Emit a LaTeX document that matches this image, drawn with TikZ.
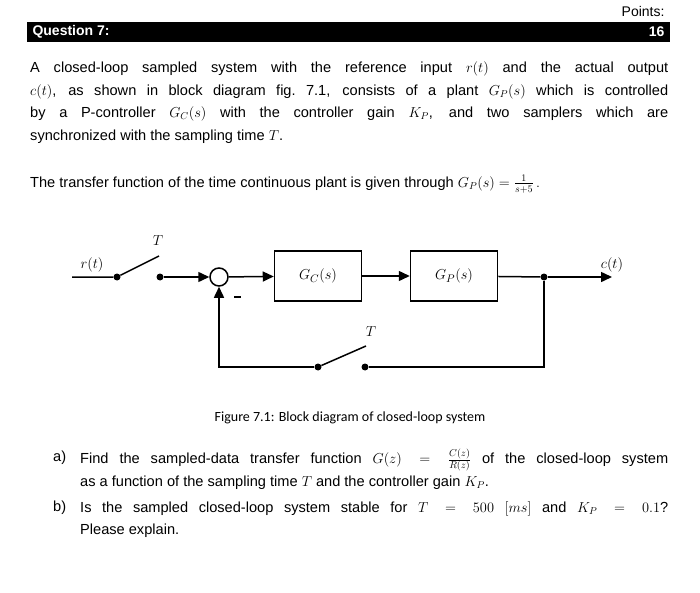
\documentclass[tikz,border=0pt]{standalone}
\usepackage{amsmath}
\usepackage{fontspec}
\setmainfont{Liberation Sans}
\newfontfamily\capfont{Carlito}
\usetikzlibrary{arrows.meta}
\tikzset{
  blk/.style={draw, line width=1.5pt, minimum width=87pt, minimum height=50pt},
  dot/.style={circle, fill, inner sep=0pt, minimum size=7pt},
  sig/.style={line width=1.5pt, -{Triangle[length=11pt,width=10pt]}},
  lbl/.style={font=\fontsize{15}{17}\selectfont},
  txt/.style={anchor=north west, inner sep=0pt, align=justify, font=\fontsize{14.6}{22.4}\selectfont}
}
\begin{document}
\begin{tikzpicture}[x=1pt,y=-1pt]
  \useasboundingbox (0,0) rectangle (700,593);
  % header
  \node[anchor=east, font=\fontsize{14}{16}\selectfont] (pts) at (668,12) {Points:};
  \fill (27,22) rectangle (670,42);
  \node[anchor=west, white, font=\bfseries\fontsize{14}{16}\selectfont] (q) at (29,32) {Question 7:};
  \node[anchor=east, white, font=\bfseries\fontsize{14}{16}\selectfont] (pn) at (668,32) {16};
  % text
  \node[txt, text width=638pt] (intro) at (30,62) {A closed-loop sampled system with the reference input $r(t)$ and the actual output\linebreak $c(t)$, as shown in block diagram fig.~7.1, consists of a plant $G_P(s)$ which is controlled\linebreak by a P-controller $G_C(s)$ with the controller gain $K_P$, and two samplers which are\linebreak synchronized with the sampling time $T$.};
  \node[txt, anchor=west] (tf) at (30,184) {The transfer function of the time continuous plant is given through $G_P(s)=\frac{1}{s+5}\,.$};
  % diagram
  \node[lbl] (r) at (92,265) {$r(t)$};
  \coordinate (rin) at (72,277);
  \node[dot] (s1a) at (117,277) {};
  \node[dot] (s1b) at (160,277) {};
  \coordinate (s1t) at (159,256);
  \node[lbl] (T1) at (158,241) {$T$};
  \node[draw, line width=1.5pt, circle, minimum size=18pt, inner sep=0pt] (sum) at (219,277) {};
  \node[blk, lbl] (gc) at (318,276) {$G_C(s)$};
  \node[blk, lbl] (gp) at (454,276) {$G_P(s)$};
  \node[dot] (br) at (544,277) {};
  \coordinate (out) at (612,277);
  \node[lbl] (c) at (612,265) {$c(t)$};
  \node[fill, minimum width=7pt, minimum height=2.5pt, inner sep=0pt] (minus) at (237,297) {};
  \node[dot] (s2a) at (318,367) {};
  \node[dot] (s2b) at (365,367) {};
  \coordinate (s2t) at (366,346);
  \node[lbl] (T2) at (371,332) {$T$};
  \draw[line width=1.5pt] (rin) -- (s1a) -- (s1t);
  \draw[sig] (s1b) -- (sum);
  \draw[sig] (sum) -- (gc);
  \draw[sig] (gc) -- (gp);
  \draw[line width=1.5pt] (gp) -- (br);
  \draw[sig] (br) -- (out);
  \draw[line width=1.5pt] (br) |- (s2b);
  \draw[line width=1.5pt] (s2a) -- (s2t);
  \draw[sig] (s2a) -| (sum);
  \node[font=\capfont\fontsize{14}{16}\selectfont] (cap) at (350,418) {Figure 7.1: Block diagram of closed-loop system};
  % questions
  \node[txt, anchor=north west] (la) at (53,451) {a)};
  \node[txt, text width=588pt] (qa) at (80,449) {Find the sampled-data transfer function $G(z)=\frac{C(z)}{R(z)}$ of the closed-loop system\linebreak as a function of the sampling time $T$ and the controller gain $K_P$.};
  \node[txt, anchor=north west] (lb) at (53,501) {b)};
  \node[txt, text width=588pt] (qb) at (80,501) {Is the sampled closed-loop system stable for $T=500\ [ms]$ and $K_P=0.1$?\linebreak Please explain.};
\end{tikzpicture}
\end{document}
